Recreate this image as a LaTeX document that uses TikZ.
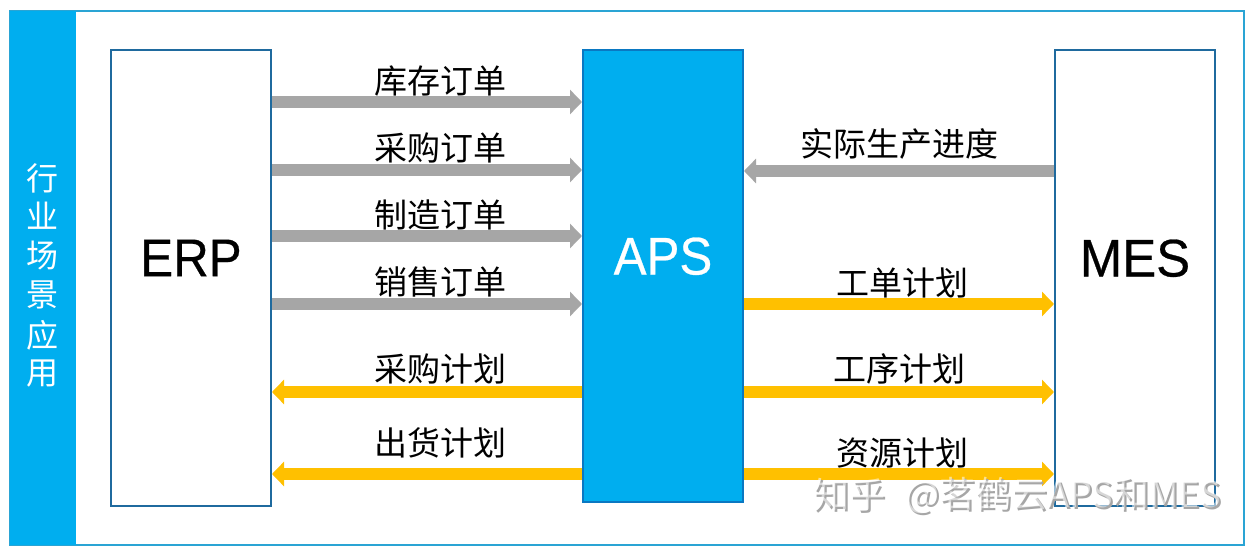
\documentclass[tikz,border=0pt]{standalone}
\usepackage{fontspec}
\setmainfont{Liberation Sans}
\newfontfamily\cjk{Noto Sans CJK SC}
\newfontface\boxface{Liberation Sans}[FakeBold=0.5,FakeStretch=0.93]
\newfontface\mesface{Liberation Sans}[FakeBold=0.5,FakeStretch=0.96]
\usetikzlibrary{arrows.meta}
\definecolor{bandblue}{HTML}{00AEEF}
\definecolor{framecol}{HTML}{2AA4D4}
\definecolor{boxline}{HTML}{1F6A9E}
\definecolor{apsline}{HTML}{0A78C2}
\definecolor{grayarrow}{HTML}{A6A6A6}
\definecolor{goldarrow}{HTML}{FFC000}
\newcommand{\boxtext}[1]{\raisebox{40bp}{#1}}
\tikzset{
  x=1bp,y=-1bp,
  sysbox/.style={draw=boxline,line width=2bp,fill=white,minimum width=160bp,inner sep=0pt,font=\boxface\fontsize{53bp}{53bp}\selectfont},
  flowband/.style={line width=12bp,-{Triangle[length=12bp,width=24bp]}},
  grayflow/.style={flowband,draw=grayarrow,color=grayarrow},
  goldflow/.style={flowband,draw=goldarrow,color=goldarrow},
  flowlabel/.style={font=\cjk\fontsize{33bp}{33bp}\selectfont,inner sep=0pt,text=black},
  bandchar/.style={font=\cjk\fontsize{32bp}{32bp}\selectfont,inner sep=0pt,text=white},
  wm/.style={font=\cjk\fontsize{36bp}{36bp}\selectfont,inner sep=0pt,anchor=west},
  wmshadow/.style={wm,text=black!35},
  wmlight/.style={wm,text=white,opacity=.55}
}
\begin{document}
\begin{tikzpicture}
\useasboundingbox (0,0) rectangle (1250,548);
\fill[white] (0,0) rectangle (1250,548);
\node[draw=framecol,line width=2bp,fill=white,minimum width=1234bp,minimum height=533bp,inner sep=0pt] (frame) at (627,278) {};
\node[fill=bandblue,minimum width=66bp,minimum height=534bp,inner sep=0pt] (band) at (43,278) {};
\node[sysbox,minimum height=456bp] (erp) at (191,278) {\boxtext{ERP}};
\node[sysbox,draw=apsline,fill=bandblue,text=white,minimum height=452bp] (aps) at (663,276) {\boxtext{APS}};
\node[sysbox,font=\mesface\fontsize{53bp}{53bp}\selectfont,minimum height=456bp] (mes) at (1135,278) {\boxtext{MES}};
\foreach \ch/\yy in {行/178,业/216,场/256,景/295,应/335,用/374}
  \node[bandchar] (b\yy) at (42,\yy) {\ch};
% left side
\draw[grayflow] (erp.east |- 0,102) -- (aps.west |- 0,102);
\draw[grayflow] (erp.east |- 0,170) -- (aps.west |- 0,170);
\draw[grayflow] (erp.east |- 0,236) -- (aps.west |- 0,236);
\draw[grayflow] (erp.east |- 0,304) -- (aps.west |- 0,304);
\draw[goldflow] (aps.west |- 0,392) -- (erp.east |- 0,392);
\draw[goldflow] (aps.west |- 0,474) -- (erp.east |- 0,474);
% right side
\draw[grayflow] (mes.west |- 0,171) -- (aps.east |- 0,171);
\draw[goldflow] (aps.east |- 0,304) -- (mes.west |- 0,304);
\draw[goldflow] (aps.east |- 0,392) -- (mes.west |- 0,392);
\draw[goldflow] (aps.east |- 0,474) -- (mes.west |- 0,474);
% labels
\node[flowlabel] (l1) at (440,81) {库存订单};
\node[flowlabel] (l2) at (440,148) {采购订单};
\node[flowlabel] (l3) at (440,215) {制造订单};
\node[flowlabel] (l4) at (440,282) {销售订单};
\node[flowlabel] (l5) at (440,369) {采购计划};
\node[flowlabel] (l6) at (440,443) {出货计划};
\node[flowlabel] (r1) at (899,144) {实际生产进度};
\node[flowlabel] (r2) at (902,283) {工单计划};
\node[flowlabel] (r3) at (899,369) {工序计划};
\node[flowlabel] (r4) at (902,453) {资源计划};
% watermark
\node[wmshadow] (wa2) at (815,497) {知乎};
\node[wmlight] (wa1) at (813,495) {知乎};
\node[wmshadow] (wb2) at (907,497) {@茗鹤云APS和MES};
\node[wmlight] (wb1) at (905,495) {@茗鹤云APS和MES};
\end{tikzpicture}
\end{document}
